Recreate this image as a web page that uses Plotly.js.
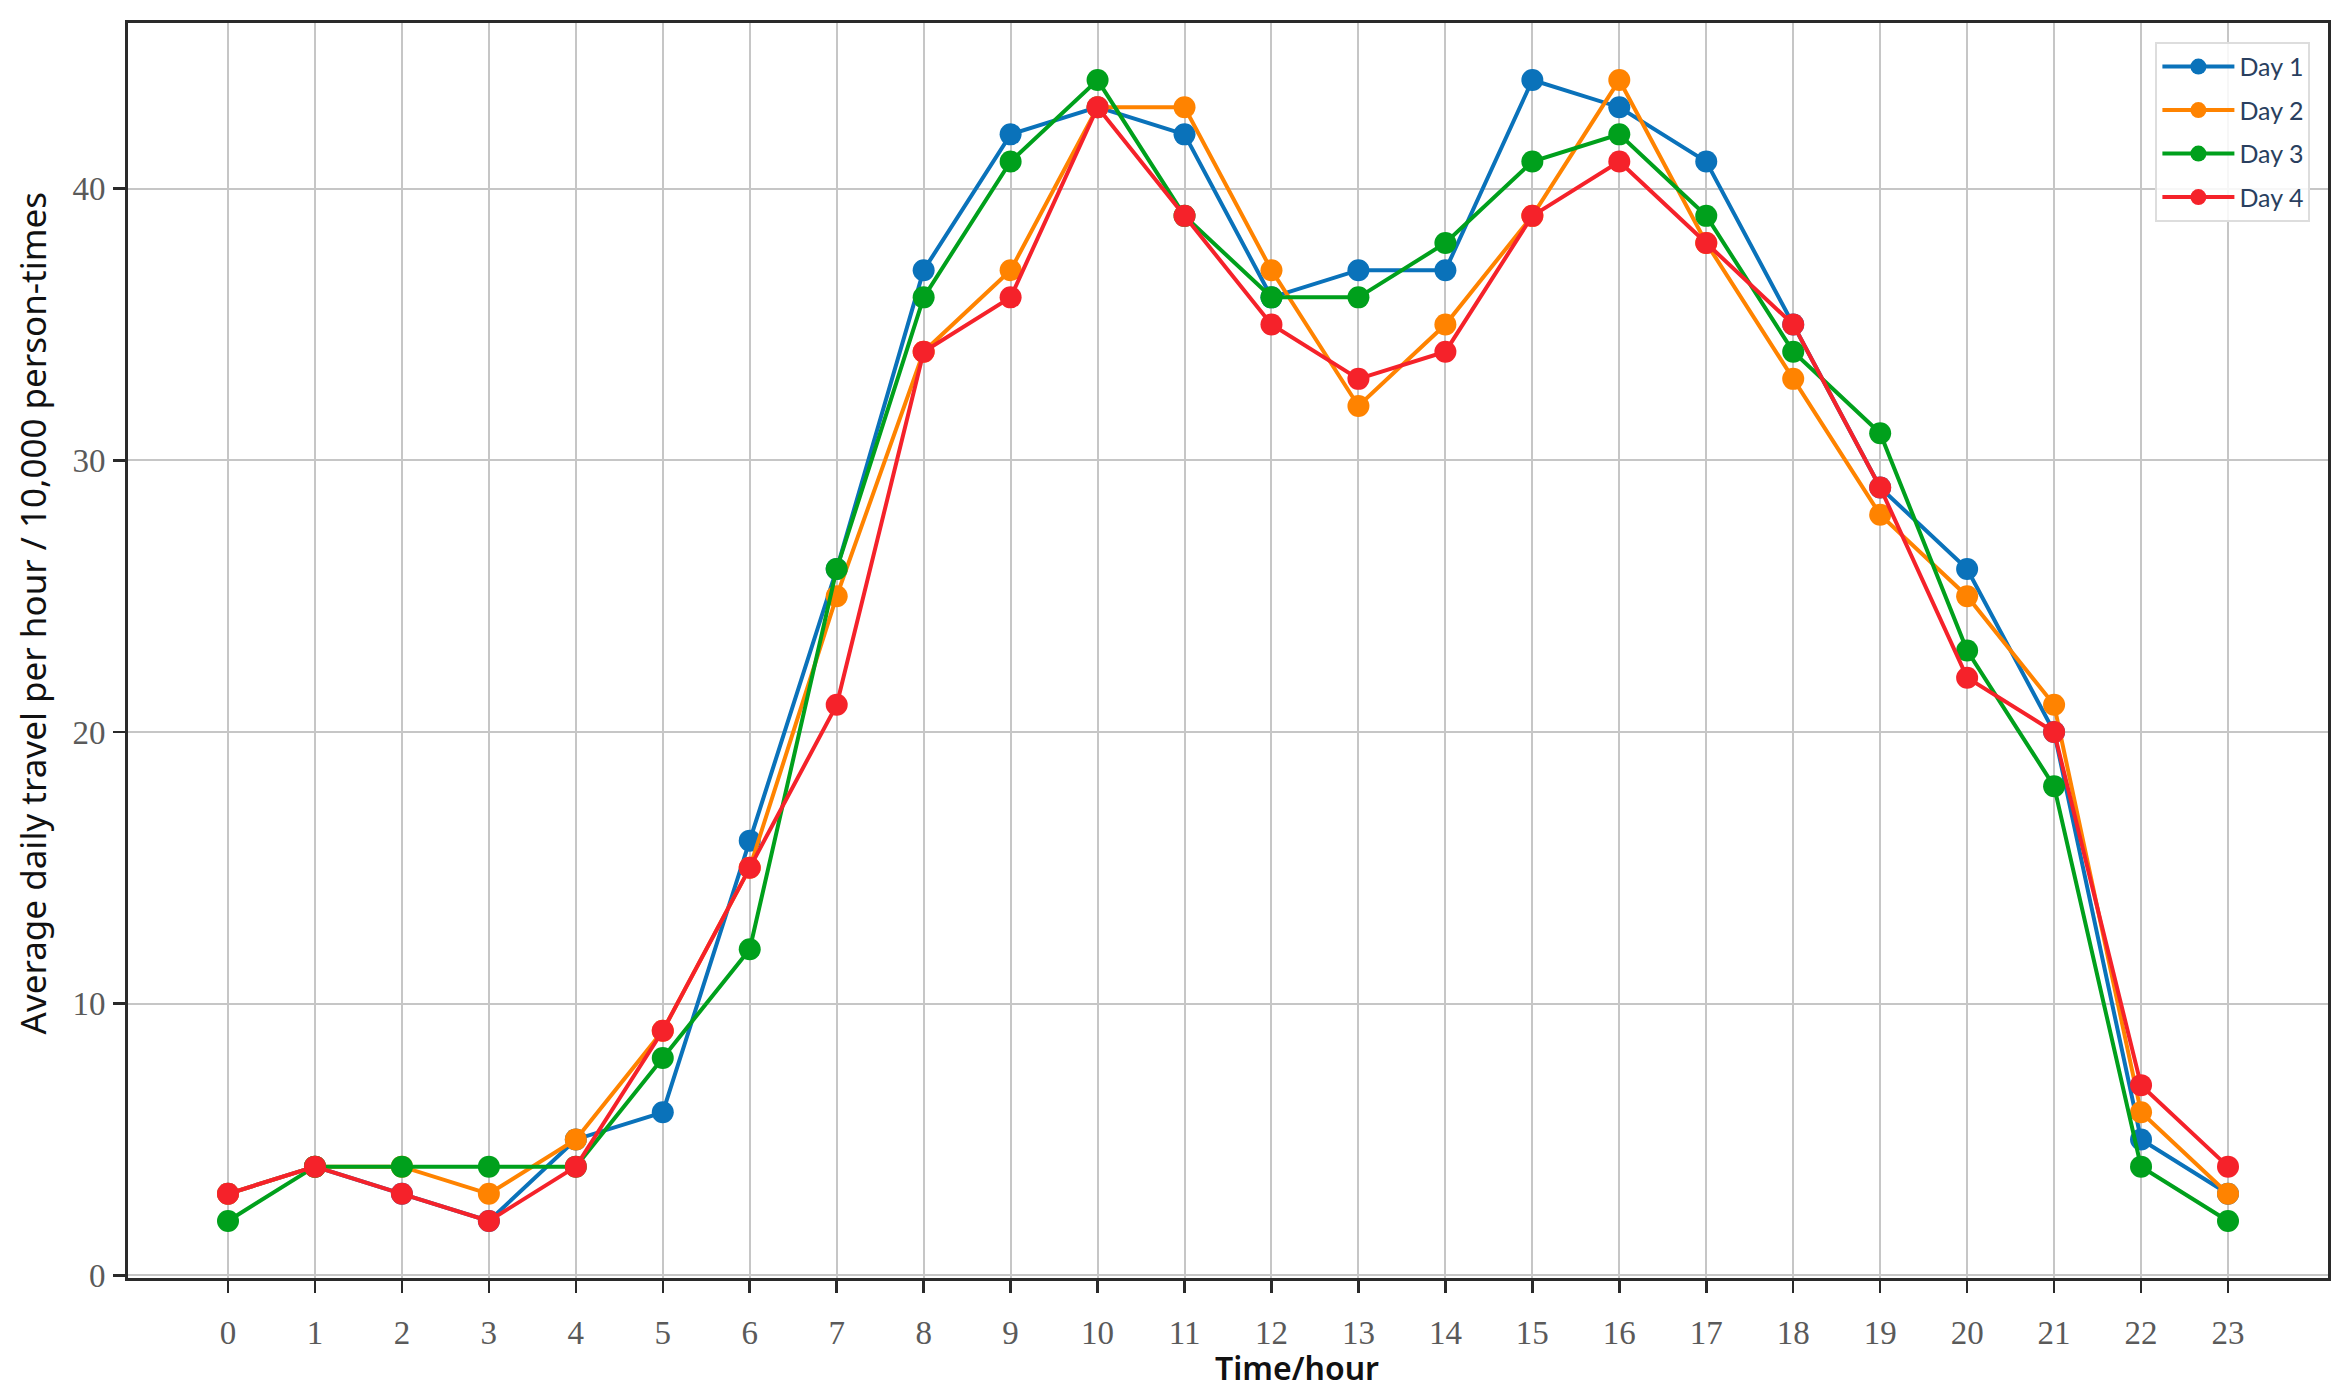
<!DOCTYPE html>
<html>
<head>
<meta charset="utf-8">
<script src="https://cdn.plot.ly/plotly-3.0.1.min.js"></script>
<style>
html,body{margin:0;padding:0;background:#fff;}
#chart{width:2351px;height:1400px;}
</style>
</head>
<body>
<div id="chart"></div>
<script>
var hours = [0,1,2,3,4,5,6,7,8,9,10,11,12,13,14,15,16,17,18,19,20,21,22,23];
var tickLabels = ["0","1","2","3","4","5","6","7","8","9","10","11","12","13","14","15","16","17","18","19","20","21","22","23"];
var seriesNames = ["Day 1","Day 2","Day 3","Day 4"];
var day1 = [3,4,3,2,5,6,16,26,37,42,43,42,36,37,37,44,43,41,35,29,26,20,5,3];
var day2 = [3,4,4,3,5,9,15,25,34,37,43,43,37,32,35,39,44,38,33,28,25,21,6,3];
var day3 = [2,4,4,4,4,8,12,26,36,41,44,39,36,36,38,41,42,39,34,31,23,18,4,2];
var day4 = [3,4,3,2,4,9,15,21,34,36,43,39,35,33,34,39,41,38,35,29,22,20,7,4];
var colors = ["#0a72ba","#ff8300","#00a01c","#f5222a"];
var yTicks = [0,10,20,30,40];
var xTitle = 'Time/hour';
var yTitle = 'Average daily travel per hour / 10,000 person-times';

var allSeries = [day1, day2, day3, day4];
var traces = allSeries.map(function(vals, i){
  return {
    x: hours, y: vals, name: seriesNames[i], type: 'scatter', mode: 'lines+markers',
    legendgroup: 'g' + i,
    line: {color: colors[i], width: 4},
    marker: {color: colors[i], size: 22}
  };
});

var tickFont = {family: '"Liberation Serif", "DejaVu Serif", serif', size: 33, color: '#5a5a5a'};

var layout = {
  width: 2351, height: 1400,
  paper_bgcolor: '#ffffff', plot_bgcolor: '#ffffff',
  margin: {l: 128, r: 23, t: 23, b: 122},
  showlegend: true,
  xaxis: {
    range: [-1.15, 24.15],
    tickmode: 'array', tickvals: hours, ticktext: tickLabels,
    showgrid: true, gridcolor: '#c6c6c6', gridwidth: 2,
    zeroline: false,
    showline: true, linecolor: '#2a2a2a', linewidth: 3, mirror: true,
    ticks: 'outside', ticklen: 12, tickwidth: 2.5, tickcolor: '#2a2a2a',
    ticklabelstandoff: 11,
    tickfont: tickFont
  },
  yaxis: {
    range: [-0.1, 46.1],
    tickmode: 'array', tickvals: yTicks, ticktext: yTicks.map(String),
    showgrid: true, gridcolor: '#c6c6c6', gridwidth: 2,
    zeroline: false,
    showline: true, linecolor: '#2a2a2a', linewidth: 3, mirror: true,
    ticks: 'outside', ticklen: 12, tickwidth: 2.5, tickcolor: '#2a2a2a',
    ticklabelstandoff: 1,
    tickfont: tickFont
  },
  annotations: [
    {text: xTitle, xref: 'paper', yref: 'paper', x: 0.5314, y: -0.0715,
     xanchor: 'center', yanchor: 'middle', showarrow: false,
     font: {family: '"Noto Sans", "Open Sans", sans-serif', size: 32, color: '#111111', weight: 600}},
    {text: yTitle, xref: 'paper', yref: 'paper', x: -0.0432, y: 0.5295,
     xanchor: 'center', yanchor: 'middle', showarrow: false, textangle: -90,
     font: {family: '"Noto Sans", "Open Sans", sans-serif', size: 35, color: '#111111'}}
  ],
  legend: {
    x: 0.992, xanchor: 'right', y: 0.985, yanchor: 'top',
    bgcolor: 'rgba(255,255,255,0.85)', bordercolor: '#dddddd', borderwidth: 2,
    font: {family: 'Lato, "Noto Sans", sans-serif', size: 25, color: '#2a3f5f'},
    itemwidth: 72, tracegroupgap: 8
  }
};

Plotly.newPlot('chart', traces, layout, {displayModeBar: false, staticPlot: true});
</script>
</body>
</html>
